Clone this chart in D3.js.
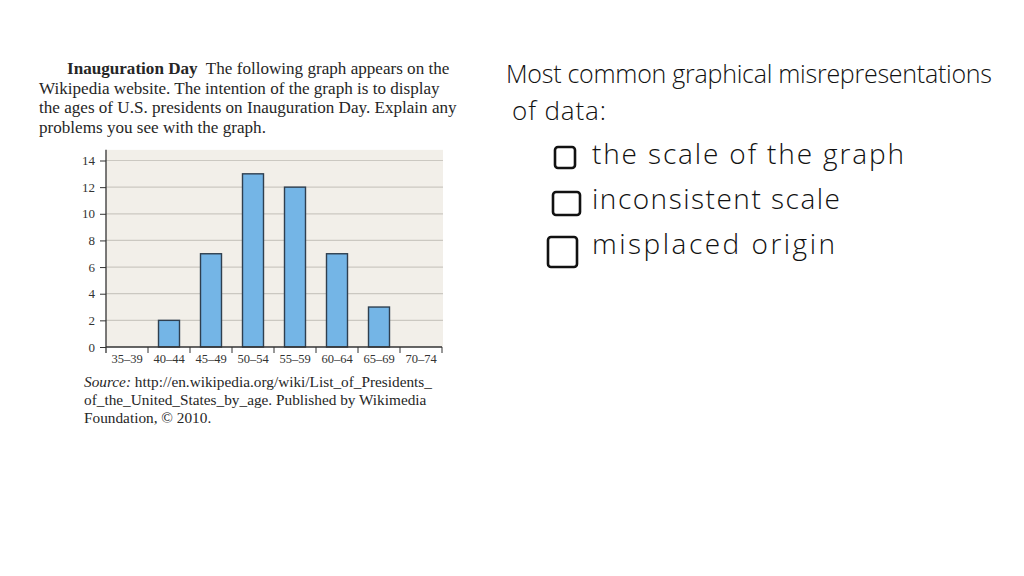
<!DOCTYPE html>
<html>
<head>
<meta charset="utf-8">
<script src="https://cdn.jsdelivr.net/npm/d3@7"></script>
<style>
  html, body { margin: 0; padding: 0; background: #ffffff; }
  svg { display: block; }
</style>
</head>
<body>
<svg id="chart" width="1024" height="576"></svg>
<script>
// ---- data ----
const categories = ["35–39", "40–44", "45–49", "50–54", "55–59", "60–64", "65–69", "70–74"];
const counts = [0, 2, 7, 13, 12, 7, 3, 0];
const yTicks = [0, 2, 4, 6, 8, 10, 12, 14];

const introBold = "Inauguration Day";
const introLines = [
  "The following graph appears on the",
  "Wikipedia website. The intention of the graph is to display",
  "the ages of U.S. presidents on Inauguration Day. Explain any",
  "problems you see with the graph."
];
const sourceLabel = "Source:";
const sourceLines = [
  " http://en.wikipedia.org/wiki/List_of_Presidents_",
  "of_the_United_States_by_age. Published by Wikimedia",
  "Foundation, © 2010."
];
const noteTitle = ["Most common graphical misrepresentations", "of data:"];
const noteItems = ["the scale of the graph", "inconsistent scale", "misplaced origin"];

// ---- drawing ----
const svg = d3.select("#chart");
const serif = "'Liberation Serif', 'Times New Roman', serif";
const hand = "'Open Sans', 'Noto Sans', sans-serif";

// Intro paragraph
const intro = svg.append("g").attr("font-family", serif).attr("font-size", 17.1).attr("fill", "#262626");
const introY = [74, 93.5, 113, 133];
const l1 = intro.append("text").attr("x", 67).attr("y", introY[0]);
l1.append("tspan").attr("font-weight", "bold").text(introBold);
l1.append("tspan").text("\u00a0 " + introLines[0]);
introLines.slice(1).forEach((t, i) => {
  intro.append("text").attr("x", 39).attr("y", introY[i + 1]).text(t);
});

// Chart
const x = d3.scaleBand().domain(categories).range([106, 442]).paddingInner(0.5).paddingOuter(0.25);
const xTickScale = d3.scaleBand().domain(categories).range([106, 442]);
const y = d3.scaleLinear().domain([0, 14]).range([347, 160.5]);

const g = svg.append("g");
g.append("rect")
  .attr("x", 106).attr("y", y(14.8))
  .attr("width", 443 - 106).attr("height", y(0) - y(14.8))
  .attr("fill", "#f2efe9");

// gridlines
g.append("g").selectAll("line").data(yTicks.filter(d => d > 0)).join("line")
  .attr("x1", 106).attr("x2", 443)
  .attr("y1", d => y(d)).attr("y2", d => y(d))
  .attr("stroke", "#cbc8c1").attr("stroke-width", 1.2);

// bars
g.append("g").selectAll("rect").data(counts).join("rect")
  .attr("x", (d, i) => x(categories[i]))
  .attr("y", d => y(d))
  .attr("width", x.bandwidth())
  .attr("height", d => y(0) - y(d))
  .attr("fill", "#74b5e6")
  .attr("stroke", "#2f3f4f")
  .attr("stroke-width", 1.4);

// y axis
const yAxis = d3.axisLeft(y).tickValues(yTicks).tickSize(6).tickPadding(5).tickFormat(d3.format("d"));
const ya = g.append("g").attr("transform", "translate(106,0)").call(yAxis)
  .attr("font-family", serif).attr("font-size", 13);
ya.select(".domain").attr("d", `M0,${y(14.8)}V${y(0) + 6}`).attr("stroke", "#333").attr("stroke-width", 1.3);
ya.selectAll(".tick line").attr("stroke", "#333").attr("stroke-width", 1);
ya.selectAll(".tick text").style("font-size", "13px").style("font-family", serif).attr("fill", "#333");

// x axis
const xa = g.append("g").attr("transform", `translate(0,${y(0)})`);
xa.append("line").attr("x1", 106).attr("x2", 442).attr("y1", 0).attr("y2", 0)
  .attr("stroke", "#333").attr("stroke-width", 1.3);
xa.selectAll("line.tk").data(categories).join("line").attr("class", "tk")
  .attr("x1", d => xTickScale(d) + xTickScale.bandwidth()).attr("x2", d => xTickScale(d) + xTickScale.bandwidth())
  .attr("y1", 0).attr("y2", 6).attr("stroke", "#333").attr("stroke-width", 1);
xa.selectAll("text").data(categories).join("text")
  .attr("x", d => xTickScale(d) + xTickScale.bandwidth() / 2)
  .attr("y", 16)
  .attr("text-anchor", "middle")
  .style("font-family", serif).style("font-size", "12.5px").attr("fill", "#333")
  .text(d => d);

// Source
const src = svg.append("g").attr("font-family", serif).attr("font-size", 15.3).attr("fill", "#262626");
const srcY = [387, 405, 423];
const s1 = src.append("text").attr("x", 84).attr("y", srcY[0]);
s1.append("tspan").attr("font-style", "italic").text(sourceLabel);
s1.append("tspan").text(sourceLines[0]);
sourceLines.slice(1).forEach((t, i) => {
  src.append("text").attr("x", 84).attr("y", srcY[i + 1]).text(t);
});

// Handwritten notes (fit each line's width with letter-spacing)
const notes = svg.append("g").attr("font-family", hand).attr("font-weight", 300).attr("fill", "#111");
function fitText(sel, target) {
  const n = sel.text().length;
  const w = sel.node().getComputedTextLength();
  sel.attr("letter-spacing", ((target - w) / Math.max(1, n - 1)).toFixed(3));
}
fitText(notes.append("text").attr("x", 506).attr("y", 83).attr("font-size", 25).text(noteTitle[0]), 486);
fitText(notes.append("text").attr("x", 512).attr("y", 120).attr("font-size", 26).text(noteTitle[1]), 94);

const boxes = [[555, 147, 20, 21], [553, 192, 27, 23], [548, 237, 29, 30]];
const itemY = [164, 209, 254];
const itemW = [312, 248, 243];
noteItems.forEach((t, i) => {
  const b = boxes[i];
  notes.append("rect").attr("x", b[0]).attr("y", b[1]).attr("width", b[2]).attr("height", b[3])
    .attr("rx", 3).attr("fill", "none").attr("stroke", "#111").attr("stroke-width", 2.6);
  fitText(notes.append("text").attr("x", 592).attr("y", itemY[i]).attr("font-size", 28).text(t), itemW[i]);
});
</script>
</body>
</html>
